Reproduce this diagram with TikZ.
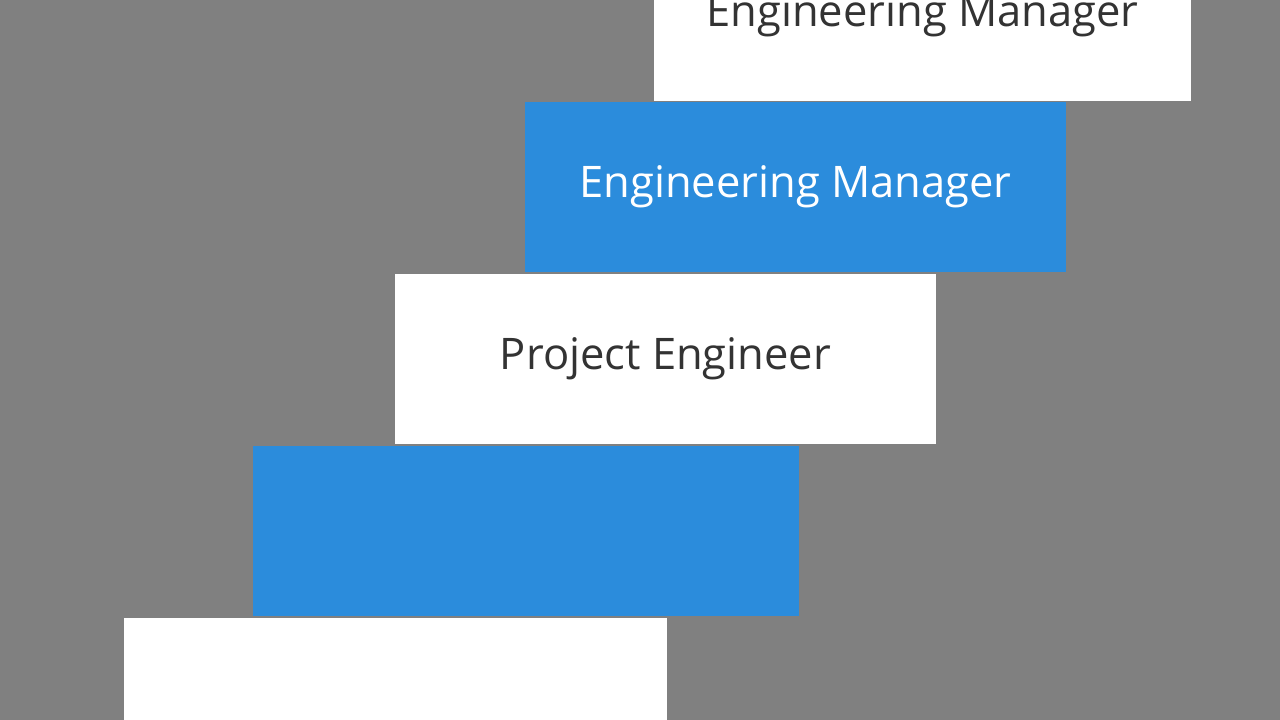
\documentclass[tikz,border=0pt]{standalone}
\usepackage{fontspec}
\setmainfont{Open Sans}
\definecolor{bggray}{HTML}{808080}
\definecolor{stepblue}{HTML}{2B8CDC}
\definecolor{txtdark}{HTML}{333333}
\tikzset{
  stair/.style={rectangle, inner sep=0pt, outer sep=0pt, minimum height=170pt,
    font=\fontsize{43.5}{52}\selectfont},
  whitestair/.style={stair, fill=white, text=txtdark},
  bluestair/.style={stair, fill=stepblue, text=white},
}
\begin{document}
\begin{tikzpicture}[x=1pt,y=-1pt]
\fill[bggray] (0,0) rectangle (1280,720);
\useasboundingbox (0,0) rectangle (1280,720);
\clip (0,0) rectangle (1280,720);
\node[whitestair, minimum width=537pt] (s1) at (922.5,16) {Engineering Manager};
\node[bluestair, minimum width=541pt] (s2) at (795.5,187) {Engineering Manager};
\node[whitestair, minimum width=541pt] (s3) at (665.5,359) {Project Engineer};
\node[bluestair, minimum width=546pt] (s4) at (526,530.5) {};
\node[whitestair, minimum width=543pt] (s5) at (395.5,703) {};
\end{tikzpicture}
\end{document}
